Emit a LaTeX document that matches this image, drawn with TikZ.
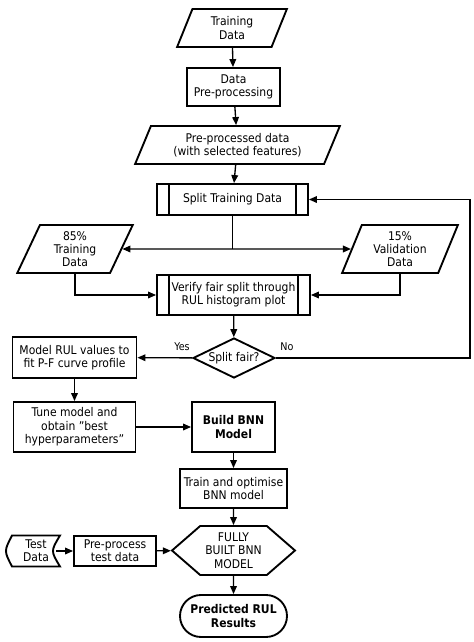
\documentclass[tikz,border=0pt]{standalone}
\usepackage{fontspec}
\setmainfont{DejaVu Sans Condensed}
\usetikzlibrary{arrows.meta,shapes.geometric,shapes.misc,shapes.symbols}
\tikzset{every picture/.style={line width=0.75pt}}

\begin{document}
\begin{tikzpicture}[x=0.75pt,y=0.75pt,yscale=-1,xscale=1,
  font=\fontsize{9}{10}\selectfont,
  blk/.style={draw,line width=1.4pt,align=center,inner sep=0pt},
  proc/.style={blk,rectangle},
  iobox/.style={blk,trapezium,trapezium left angle=70,trapezium right angle=110,trapezium stretches=true},
  subproc/.style={proc,path picture={\draw[line width=1.2pt] ([xshift=9pt]path picture bounding box.north west) -- ([xshift=9pt]path picture bounding box.south west) ([xshift=-9pt]path picture bounding box.north east) -- ([xshift=-9pt]path picture bounding box.south east);}},
  arr/.style={line width=1pt,-{Triangle[length=6pt,width=5pt]}},
  lbl/.style={font=\fontsize{8}{9}\selectfont}]
\useasboundingbox (0,0) rectangle (474,642);

%Shape: Parallelogram [id:training]
\node[iobox,minimum width=82.5pt,minimum height=28.5pt] (train) at (232,28) {Training\\Data};
%Shape: Rectangle [id:prep]
\node[proc,minimum width=69.75pt,minimum height=28.5pt] (prep) at (233.5,87) {Data\\Pre-processing};
%Shape: Parallelogram [id:ppd]
\node[iobox,trapezium left angle=64,trapezium right angle=116,minimum width=153.75pt,minimum height=28.5pt] (ppd) at (237.5,145) {Pre-processed data\\(with selected features)};
%Shape: Predefined process [id:split]
\node[subproc,minimum width=113.25pt,minimum height=23.25pt] (split) at (232.5,199.5) {Split Training Data};
%Shape: Parallelogram [id:trd]
\node[iobox,trapezium left angle=69,trapezium right angle=111,minimum width=87pt,minimum height=36pt] (trd) at (75,249) {85\%\\Training\\Data};
%Shape: Parallelogram [id:vald]
\node[iobox,trapezium left angle=69,trapezium right angle=111,minimum width=87pt,minimum height=36pt] (vald) at (400,249) {15\%\\Validation\\Data};
%Shape: Predefined process [id:verify]
\node[subproc,minimum width=114.75pt,minimum height=30pt] (verify) at (233.5,295) {Verify fair split through\\RUL histogram plot};
%Shape: Diamond [id:fair]
\node[blk,diamond,aspect=2,minimum width=61.5pt,minimum height=30pt] (fair) at (234,358) {Split fair?};
%Shape: Rectangle [id:mrul]
\node[proc,minimum width=93pt,minimum height=30.75pt] (mrul) at (74.5,357.5) {Model RUL values to\\fit P-F curve profile};
%Shape: Rectangle [id:tune]
\node[proc,minimum width=91.5pt,minimum height=37.5pt] (tune) at (74.5,427) {Tune model and\\obtain "best\\hyperparameters"};
%Shape: Rectangle [id:build]
\node[proc,minimum width=62.25pt,minimum height=37.5pt,font=\fontsize{9}{10}\selectfont\bfseries] (build) at (233.5,427) {Build BNN\\Model};
%Shape: Rectangle [id:trainbnn]
\node[proc,minimum width=80.25pt,minimum height=29.25pt] (trainbnn) at (233.5,488.5) {Train and optimise\\BNN model};
%Shape: Hexagon [id:full]
\node[blk,signal,signal to=west and east,signal pointer angle=82,minimum width=92.25pt,minimum height=36.75pt] (full) at (233.5,550.5) {FULLY\\BUILT BNN\\MODEL};
%Shape: Stored data [id:testd]
\node[align=center,inner sep=0pt,minimum width=35.25pt,minimum height=22.5pt] (testd) at (36,551) {Test\\Data};
\draw[line width=1.4pt] (testd.north west) -- (testd.north east) .. controls ([xshift=-7pt]testd.east) .. (testd.south east) -- (testd.south west) .. controls ([xshift=-6pt]testd.west) .. (testd.north west) -- cycle;
%Shape: Rectangle [id:pptest]
\node[proc,minimum width=61.5pt,minimum height=22.5pt] (pptest) at (115,551) {Pre-process\\test data};
%Shape: Terminal [id:result]
\node[blk,rounded rectangle,minimum width=80.25pt,minimum height=31.5pt,font=\fontsize{9}{10}\selectfont\bfseries] (result) at (233.5,616) {Predicted RUL\\Results};

% Text Node
\node[lbl] (yes) at (182,347) {Yes};
% Text Node
\node[lbl] (no) at (287,347) {No};

\coordinate (loopc) at (470,358);

%Straight Lines
\draw[arr] (train) -- (prep);
\draw[arr] (prep) -- (ppd);
\draw[arr] (ppd) -- (split);
\draw[line width=1pt] (split) -- (split |- trd.east);
\draw[line width=1pt,{Triangle[length=6pt,width=5pt]}-{Triangle[length=6pt,width=5pt]}] (trd.east) -- (vald.west);
\draw[arr] (trd.south) |- (verify.west);
\draw[arr] (vald.south) |- (verify.east);
\draw[arr] (verify) -- (fair);
\draw[arr] (fair) -- (mrul);
\draw[arr] (fair.east) -- (loopc) |- (split.east);
\draw[arr] (mrul) -- (tune);
\draw[arr] (tune) -- (build);
\draw[arr] (build) -- (trainbnn);
\draw[arr] (trainbnn) -- (full);
\draw[arr] ([xshift=-3pt]testd.east) -- (pptest);
\draw[arr] (pptest) -- (full);
\draw[arr] (full) -- (result);
\end{tikzpicture}
\end{document}
